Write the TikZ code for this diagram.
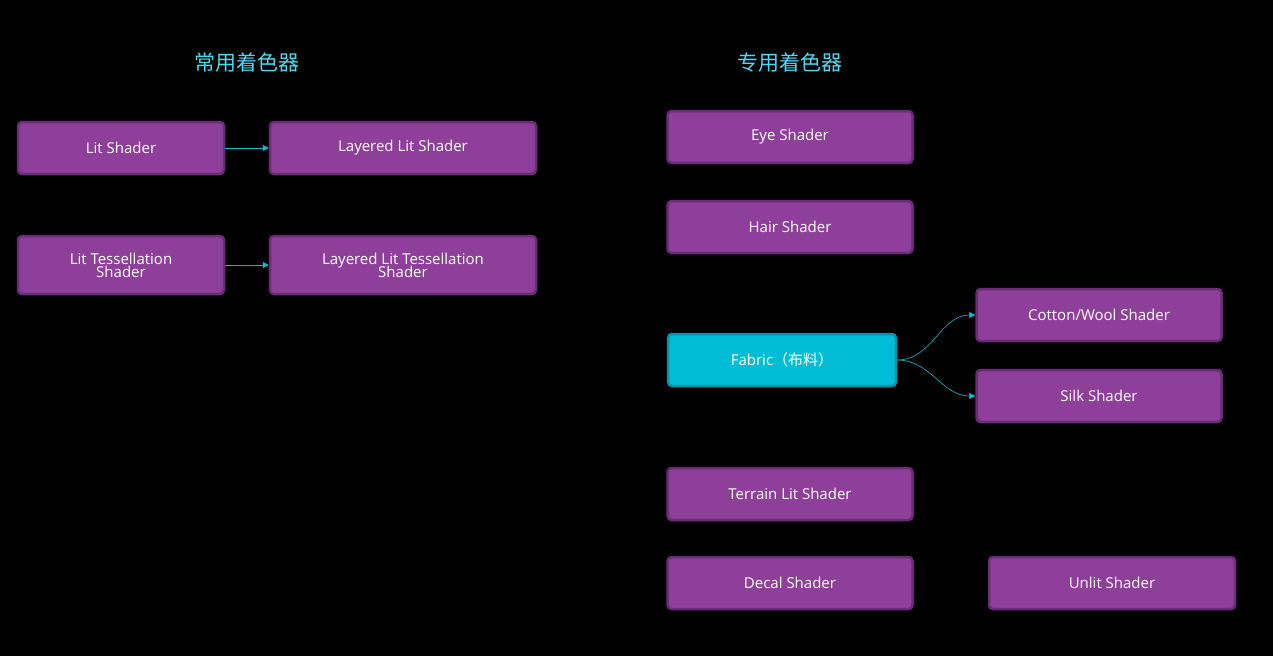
\documentclass[tikz,border=0pt]{standalone}
\usepackage{fontspec}
\setmainfont{Open Sans}
\newfontfamily\cjk{Noto Sans CJK SC}
\usetikzlibrary{arrows.meta}
\definecolor{boxfill}{HTML}{8E3F9A}
\definecolor{boxline}{HTML}{6A2C77}
\definecolor{fabfill}{HTML}{00BCD4}
\definecolor{fabline}{HTML}{0095A8}
\definecolor{titlec}{HTML}{4DD9F0}
\definecolor{arr}{HTML}{1AB6D0}
\begin{document}
\begin{tikzpicture}[x=1pt,y=-1pt,
  box/.style={draw=boxline,fill=boxfill,line width=2.5pt,rounded corners=4pt,text=white,
    font=\fontsize{15}{15}\selectfont,align=center,inner sep=0pt},
  fab/.style={box,draw=fabline,fill=fabfill},
  ttl/.style={text=titlec,font=\cjk\fontsize{21}{21}\selectfont},
  con/.style={draw=arr,line width=0.6pt,-{Triangle[length=6pt,width=6pt]}}]
\fill[black] (0,0) rectangle (1273,656);
\useasboundingbox (0,0) rectangle (1273,656);
\node[ttl] (t1) at (247,63) {常用着色器};
\node[ttl] (t2) at (790,63) {专用着色器};
\node[box,minimum width=206pt,minimum height=52pt] (lit) at (121,148) {Lit Shader};
\node[box,minimum width=266pt,minimum height=52pt] (llit) at (403,148) {Layered Lit Shader};
\node[box,minimum width=206pt,minimum height=58pt] (tess) at (121,265) {Lit Tessellation\\[-2pt]Shader};
\node[box,minimum width=266pt,minimum height=58pt] (ltess) at (403,265) {Layered Lit Tessellation\\[-2pt]Shader};
\node[box,minimum width=245pt,minimum height=52pt] (eye) at (790,137) {Eye Shader};
\node[box,minimum width=245pt,minimum height=52pt] (hair) at (790,227) {Hair Shader};
\node[fab,minimum width=228pt,minimum height=52pt] (fabric) at (782,360) {Fabric{\cjk（布料）}};
\node[box,minimum width=245pt,minimum height=52pt] (cotton) at (1099,315) {Cotton/Wool Shader};
\node[box,minimum width=245pt,minimum height=52pt] (silk) at (1099,396) {Silk Shader};
\node[box,minimum width=245pt,minimum height=52pt] (terrain) at (790,494) {Terrain Lit Shader};
\node[box,minimum width=245pt,minimum height=52pt] (decal) at (790,583) {Decal Shader};
\node[box,minimum width=246pt,minimum height=52pt] (unlit) at (1112,583) {Unlit Shader};
\draw[con] (lit) -- (llit);
\draw[con] (tess) -- (ltess);
\draw[con] (fabric.east) to[out=0,in=180] (cotton.west);
\draw[con] (fabric.east) to[out=0,in=180] (silk.west);
\end{tikzpicture}
\end{document}
